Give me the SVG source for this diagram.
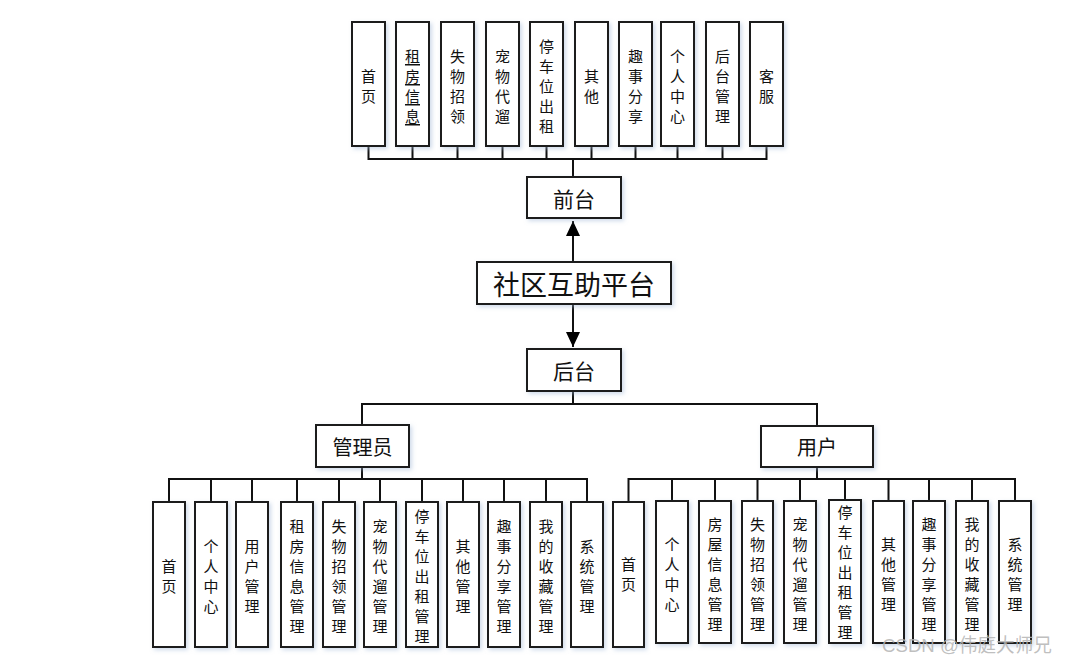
<svg xmlns="http://www.w3.org/2000/svg" width="1068" height="664" viewBox="0 0 1068 664">
<defs>
<style>
.box{fill:#fff;stroke:#1a1a1a;stroke-width:2;filter:url(#sh)}
.ln{fill:none;stroke:#111;stroke-width:2}
.t{font-family:"Noto Sans CJK SC","Liberation Sans",sans-serif;font-size:15px;fill:#111;text-anchor:middle;dominant-baseline:central}
.big{font-family:"Noto Sans CJK SC","Liberation Sans",sans-serif;fill:#111;text-anchor:middle;dominant-baseline:central}
.ul{text-decoration:underline}
</style>
<filter id="sh" x="-20%" y="-20%" width="140%" height="140%">
<feDropShadow dx="2" dy="2" stdDeviation="2" flood-color="#9fb6d6" flood-opacity="0.5"/>
</filter>
<marker id="ar" markerWidth="16" markerHeight="16" refX="15" refY="7" orient="auto" markerUnits="userSpaceOnUse">
<path d="M0,0 L15,7 L0,14 Z" fill="#000"/>
</marker>
</defs>
<rect width="1068" height="664" fill="#fff"/>
<g id="connectors">
<path class="ln" d="M368.5,146V159H766.5V146M412.5,146V159M457.5,146V159M502.5,146V159M546.5,146V159M591.5,146V159M635.5,146V159M677.5,146V159M722.5,146V159"/>
<path class="ln" d="M573,159V177" stroke-width="3"/>
<path class="ln" d="M573,262V221" marker-end="url(#ar)"/>
<path class="ln" d="M573,304V347" marker-end="url(#ar)"/>
<path class="ln" d="M573,391V404M362,425V404H817V426"/>
<path class="ln" d="M362,467V479M169,502V479H587V502M211,479V502M252,479V502M297,479V502M339,479V502M380,479V502M422,479V502M463,479V502M504,479V502M546,479V502"/>
<path class="ln" d="M817,467V479M628.5,502V479H1015V501M672,479V501M715,479V501M757.5,479V501M800,479V501M845,479V500M888.5,479V501M929,479V501M972,479V501"/>
</g>
<g id="front-nodes">
<g id="f1"><rect class="box" x="352" y="22" width="33" height="124"/><text class="t"><tspan x="368.5" y="75">首</tspan><tspan x="368.5" y="95">页</tspan></text></g>
<g id="f2"><rect class="box" x="396" y="22" width="33" height="124"/><text class="t ul"><tspan x="412.5" y="55">租</tspan><tspan x="412.5" y="75">房</tspan><tspan x="412.5" y="95">信</tspan><tspan x="412.5" y="115">息</tspan></text></g>
<g id="f3"><rect class="box" x="441" y="22" width="33" height="124"/><text class="t"><tspan x="457.5" y="55">失</tspan><tspan x="457.5" y="75">物</tspan><tspan x="457.5" y="95">招</tspan><tspan x="457.5" y="115">领</tspan></text></g>
<g id="f4"><rect class="box" x="486" y="22" width="33" height="124"/><text class="t"><tspan x="502.5" y="55">宠</tspan><tspan x="502.5" y="75">物</tspan><tspan x="502.5" y="95">代</tspan><tspan x="502.5" y="115">遛</tspan></text></g>
<g id="f5"><rect class="box" x="530" y="22" width="33" height="124"/><text class="t"><tspan x="546.5" y="45">停</tspan><tspan x="546.5" y="65">车</tspan><tspan x="546.5" y="85">位</tspan><tspan x="546.5" y="105">出</tspan><tspan x="546.5" y="125">租</tspan></text></g>
<g id="f6"><rect class="box" x="575" y="22" width="33" height="124"/><text class="t"><tspan x="591.5" y="75">其</tspan><tspan x="591.5" y="95">他</tspan></text></g>
<g id="f7"><rect class="box" x="619" y="22" width="33" height="124"/><text class="t"><tspan x="635.5" y="55">趣</tspan><tspan x="635.5" y="75">事</tspan><tspan x="635.5" y="95">分</tspan><tspan x="635.5" y="115">享</tspan></text></g>
<g id="f8"><rect class="box" x="661" y="22" width="33" height="124"/><text class="t"><tspan x="677.5" y="55">个</tspan><tspan x="677.5" y="75">人</tspan><tspan x="677.5" y="95">中</tspan><tspan x="677.5" y="115">心</tspan></text></g>
<g id="f9"><rect class="box" x="706" y="22" width="33" height="124"/><text class="t"><tspan x="722.5" y="55">后</tspan><tspan x="722.5" y="75">台</tspan><tspan x="722.5" y="95">管</tspan><tspan x="722.5" y="115">理</tspan></text></g>
<g id="f10"><rect class="box" x="750" y="22" width="33" height="124"/><text class="t"><tspan x="766.5" y="75">客</tspan><tspan x="766.5" y="95">服</tspan></text></g>
</g>
<g id="qiantai"><rect class="box" x="527" y="177" width="94" height="41"/><text class="big" x="574" y="198" font-size="21">前台</text></g>
<g id="platform"><rect class="box" x="477" y="262" width="194" height="42"/><text class="big" x="574" y="283" font-size="27">社区互助平台</text></g>
<g id="houtai"><rect class="box" x="527" y="349" width="94" height="42"/><text class="big" x="574" y="370" font-size="21">后台</text></g>
<g id="admin"><rect class="box" x="316" y="425" width="93" height="42"/><text class="big" x="362.5" y="446" font-size="20">管理员</text></g>
<g id="user"><rect class="box" x="761" y="426" width="112" height="41"/><text class="big" x="817" y="446.5" font-size="20">用户</text></g>
<g id="admin-nodes">
<g id="a1"><rect class="box" x="153" y="502" width="32" height="145"/><text class="t"><tspan x="169" y="565">首</tspan><tspan x="169" y="585">页</tspan></text></g>
<g id="a2"><rect class="box" x="195" y="502" width="32" height="145"/><text class="t"><tspan x="211" y="545">个</tspan><tspan x="211" y="565">人</tspan><tspan x="211" y="585">中</tspan><tspan x="211" y="605">心</tspan></text></g>
<g id="a3"><rect class="box" x="236" y="502" width="32" height="145"/><text class="t"><tspan x="252" y="545">用</tspan><tspan x="252" y="565">户</tspan><tspan x="252" y="585">管</tspan><tspan x="252" y="605">理</tspan></text></g>
<g id="a4"><rect class="box" x="281" y="502" width="32" height="145"/><text class="t"><tspan x="297" y="525">租</tspan><tspan x="297" y="545">房</tspan><tspan x="297" y="565">信</tspan><tspan x="297" y="585">息</tspan><tspan x="297" y="605">管</tspan><tspan x="297" y="625">理</tspan></text></g>
<g id="a5"><rect class="box" x="323" y="502" width="32" height="145"/><text class="t"><tspan x="339" y="525">失</tspan><tspan x="339" y="545">物</tspan><tspan x="339" y="565">招</tspan><tspan x="339" y="585">领</tspan><tspan x="339" y="605">管</tspan><tspan x="339" y="625">理</tspan></text></g>
<g id="a6"><rect class="box" x="364" y="502" width="32" height="145"/><text class="t"><tspan x="380" y="525">宠</tspan><tspan x="380" y="545">物</tspan><tspan x="380" y="565">代</tspan><tspan x="380" y="585">遛</tspan><tspan x="380" y="605">管</tspan><tspan x="380" y="625">理</tspan></text></g>
<g id="a7"><rect class="box" x="406" y="502" width="32" height="145"/><text class="t"><tspan x="422" y="515">停</tspan><tspan x="422" y="535">车</tspan><tspan x="422" y="555">位</tspan><tspan x="422" y="575">出</tspan><tspan x="422" y="595">租</tspan><tspan x="422" y="615">管</tspan><tspan x="422" y="635">理</tspan></text></g>
<g id="a8"><rect class="box" x="447" y="502" width="32" height="145"/><text class="t"><tspan x="463" y="545">其</tspan><tspan x="463" y="565">他</tspan><tspan x="463" y="585">管</tspan><tspan x="463" y="605">理</tspan></text></g>
<g id="a9"><rect class="box" x="488" y="502" width="32" height="145"/><text class="t"><tspan x="504" y="525">趣</tspan><tspan x="504" y="545">事</tspan><tspan x="504" y="565">分</tspan><tspan x="504" y="585">享</tspan><tspan x="504" y="605">管</tspan><tspan x="504" y="625">理</tspan></text></g>
<g id="a10"><rect class="box" x="530" y="502" width="32" height="145"/><text class="t"><tspan x="546" y="525">我</tspan><tspan x="546" y="545">的</tspan><tspan x="546" y="565">收</tspan><tspan x="546" y="585">藏</tspan><tspan x="546" y="605">管</tspan><tspan x="546" y="625">理</tspan></text></g>
<g id="a11"><rect class="box" x="571" y="502" width="32" height="145"/><text class="t"><tspan x="587" y="545">系</tspan><tspan x="587" y="565">统</tspan><tspan x="587" y="585">管</tspan><tspan x="587" y="605">理</tspan></text></g>
</g>
<g id="user-nodes">
<g id="u1"><rect class="box" x="613" y="502" width="31" height="145"/><text class="t"><tspan x="628.5" y="563">首</tspan><tspan x="628.5" y="583">页</tspan></text></g>
<g id="u2"><rect class="box" x="656" y="501" width="32" height="142"/><text class="t"><tspan x="672" y="543">个</tspan><tspan x="672" y="563">人</tspan><tspan x="672" y="583">中</tspan><tspan x="672" y="603">心</tspan></text></g>
<g id="u3"><rect class="box" x="699" y="501" width="32" height="142"/><text class="t"><tspan x="715" y="523">房</tspan><tspan x="715" y="543">屋</tspan><tspan x="715" y="563">信</tspan><tspan x="715" y="583">息</tspan><tspan x="715" y="603">管</tspan><tspan x="715" y="623">理</tspan></text></g>
<g id="u4"><rect class="box" x="742" y="501" width="31" height="142"/><text class="t"><tspan x="757.5" y="523">失</tspan><tspan x="757.5" y="543">物</tspan><tspan x="757.5" y="563">招</tspan><tspan x="757.5" y="583">领</tspan><tspan x="757.5" y="603">管</tspan><tspan x="757.5" y="623">理</tspan></text></g>
<g id="u5"><rect class="box" x="784" y="501" width="32" height="142"/><text class="t"><tspan x="800" y="523">宠</tspan><tspan x="800" y="543">物</tspan><tspan x="800" y="563">代</tspan><tspan x="800" y="583">遛</tspan><tspan x="800" y="603">管</tspan><tspan x="800" y="623">理</tspan></text></g>
<g id="u6"><rect class="box" x="829" y="500" width="32" height="143"/><text class="t"><tspan x="845" y="511">停</tspan><tspan x="845" y="531">车</tspan><tspan x="845" y="551">位</tspan><tspan x="845" y="571">出</tspan><tspan x="845" y="591">租</tspan><tspan x="845" y="611">管</tspan><tspan x="845" y="631">理</tspan></text></g>
<g id="u7"><rect class="box" x="873" y="501" width="31" height="142"/><text class="t"><tspan x="888.5" y="543">其</tspan><tspan x="888.5" y="563">他</tspan><tspan x="888.5" y="583">管</tspan><tspan x="888.5" y="603">理</tspan></text></g>
<g id="u8"><rect class="box" x="913" y="501" width="32" height="142"/><text class="t"><tspan x="929" y="523">趣</tspan><tspan x="929" y="543">事</tspan><tspan x="929" y="563">分</tspan><tspan x="929" y="583">享</tspan><tspan x="929" y="603">管</tspan><tspan x="929" y="623">理</tspan></text></g>
<g id="u9"><rect class="box" x="956" y="501" width="32" height="142"/><text class="t"><tspan x="972" y="523">我</tspan><tspan x="972" y="543">的</tspan><tspan x="972" y="563">收</tspan><tspan x="972" y="583">藏</tspan><tspan x="972" y="603">管</tspan><tspan x="972" y="623">理</tspan></text></g>
<g id="u10"><rect class="box" x="999" y="501" width="32" height="142"/><text class="t"><tspan x="1015" y="543">系</tspan><tspan x="1015" y="563">统</tspan><tspan x="1015" y="583">管</tspan><tspan x="1015" y="603">理</tspan></text></g>
</g>
<text x="882" y="652" font-family="'Liberation Sans','Noto Sans CJK SC',sans-serif" font-size="19" textLength="170" lengthAdjust="spacingAndGlyphs" fill="#b4b4b4" fill-opacity="0.85">CSDN @伟庭大师兄</text>
</svg>
